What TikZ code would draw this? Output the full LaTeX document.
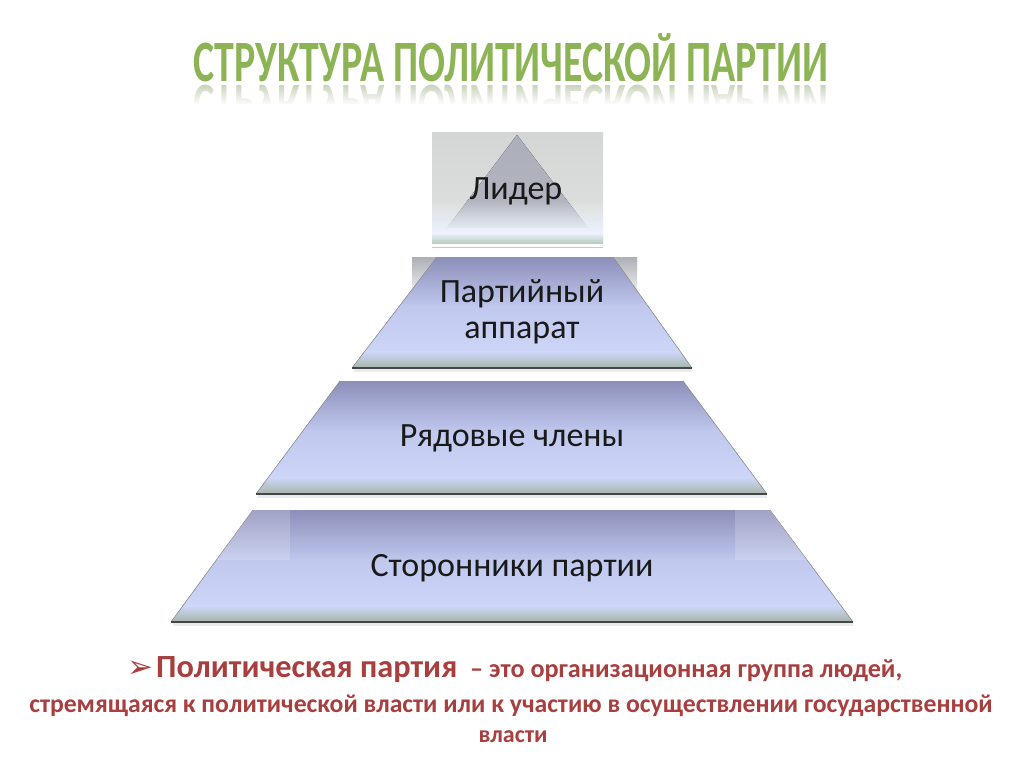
\documentclass[tikz,border=0pt]{standalone}
\usepackage{fontspec}
\setmainfont{Carlito}
\newfontfamily\djv{DejaVu Sans}
\usetikzlibrary{fadings}
\definecolor{titlegreen}{RGB}{140,180,84}
\definecolor{defred}{RGB}{168,62,62}
\definecolor{lvtop}{RGB}{140,143,185}
\definecolor{lvmid}{RGB}{192,200,238}
\definecolor{lvlow}{RGB}{205,214,248}
\definecolor{lvgreen}{RGB}{165,182,168}
\definecolor{edgegrey}{RGB}{70,70,72}
\definecolor{sidegrey}{RGB}{150,150,160}
\definecolor{ldtop}{RGB}{212,214,214}
\definecolor{ldmid}{RGB}{224,226,224}
\definecolor{ldtri}{RGB}{172,175,186}
\definecolor{ldwhite}{RGB}{236,241,252}
\definecolor{ldgreen}{RGB}{182,206,190}
\tikzset{
  lvltext/.style={font=\fontsize{34}{36}\selectfont, text=black!90, align=center},
  bottomedge/.style={draw=edgegrey, line width=1.6pt},
  sideedge/.style={draw=sidegrey, line width=0.6pt},
}
% level macro: #1 name, #2 ytop, #3 ybot, #4 xtl, #5 xtr, #6 xbl, #7 xbr
\newcommand{\pyrlevel}[7]{%
  \coordinate (#1-tl) at (#4,#2);
  \coordinate (#1-tr) at (#5,#2);
  \coordinate (#1-bl) at (#6,#3);
  \coordinate (#1-br) at (#7,#3);
  \begin{scope}
    \clip (#1-tl) -- (#1-tr) -- (#1-br) -- (#1-bl) -- cycle;
    \pgfmathsetmacro{\ya}{#2+0.45*(#3-#2)}
    \pgfmathsetmacro{\yb}{#3-0.14*(#3-#2)}
    \fill[top color=lvtop, bottom color=lvmid] (#6,#2) rectangle (#7,\ya);
    \fill[top color=lvmid, bottom color=lvlow] (#6,\ya-0.5) rectangle (#7,\yb);
    \fill[top color=lvlow, bottom color=lvgreen] (#6,\yb-0.5) rectangle (#7,#3);
  \end{scope}
  \draw[sideedge] (#1-bl) -- (#1-tl);
  \draw[sideedge] (#1-br) -- (#1-tr);
  \fill[black!8] (#6+2,#3+1) rectangle (#7,#3+4);
  \draw[bottomedge] (#1-bl) -- (#1-br);
}
\begin{document}
\begin{tikzpicture}[x=1pt,y=-1pt]
\useasboundingbox[fill=white] (0,0) rectangle (1024,767);

% ---- title with reflection
\node[anchor=base, text=titlegreen, inner sep=0] (title) at (511,82)
  {\resizebox{635pt}{38pt}{\bfseries\smash{СТРУКТУРА ПОЛИТИЧЕСКОЙ ПАРТИИ}\vphantom{Т}}};
\begin{scope}
  \clip (150,84) rectangle (880,104);
  \node[anchor=base, text=titlegreen!55!gray, opacity=0.45, inner sep=0] (titlerefl) at (511,86)
    {\scalebox{1}[-1]{\resizebox{635pt}{38pt}{\bfseries\smash{СТРУКТУРА ПОЛИТИЧЕСКОЙ ПАРТИИ}\vphantom{Т}}}};
\end{scope}
\fill[white, path fading=north] (150,84) rectangle (880,105);

% ---- leader (top)
\coordinate (ld-tl) at (432,133);
\coordinate (ld-br) at (603,243);
\coordinate (apex) at (517,135);
\coordinate (tri-l) at (447,228);
\coordinate (tri-r) at (588,228);
\fill[top color=ldtop, bottom color=ldmid] (ld-tl) rectangle (ld-br);
\fill[top color=ldtri, bottom color=ldtri!90!white] (apex) -- (tri-r) -- (tri-l) -- cycle;
\fill[ldwhite, path fading=north] (432,200) rectangle (603,232);
\fill[ldwhite] (432,231.5) rectangle (603,234);
\fill[top color=ldwhite, bottom color=ldgreen] (432,233.5) rectangle (603,243);
\draw[draw=black!22, line width=0.8pt] (432,247) -- (603,247);
\node[lvltext] (leader) at (516,191) {Лидер};

% ---- level 2 back rectangle
\fill[top color={rgb,255:red,172;green,175;blue,180}, bottom color=white] (412,257) rectangle (637,302);
\pyrlevel{apparat}{257}{368}{437}{613}{352}{692}
\node[lvltext] (apparatus) at (522,312) {Партийный\\аппарат};

% ---- level 3
\pyrlevel{members}{381}{494}{340}{683}{256}{767}
\node[lvltext] (ranks) at (512,438) {Рядовые члены};

% ---- level 4
\pyrlevel{supp}{510}{622}{253}{770}{171}{853}
\begin{scope}
  \clip (supp-tl) -- (supp-tr) -- (supp-br) -- (supp-bl) -- cycle;
  \fill[white, fill opacity=0.18] (171,510) rectangle (290,560);
  \fill[white, fill opacity=0.18] (735,510) rectangle (853,560);
\end{scope}
\node[lvltext] (supporters) at (512,568) {Сторонники партии};

% ---- definition text
\node[anchor=base west, inner sep=0, text=defred] (bullet) at (127,677)
  {\resizebox{26pt}{!}{\djv ➢}};
\node[anchor=base west, inner sep=0, text=defred] (term) at (156,677)
  {\resizebox{301pt}{!}{\bfseries Политическая партия}};
\node[anchor=base west, inner sep=0, text=defred] (defa) at (470,677)
  {\resizebox{432pt}{!}{\bfseries – это организационная группа людей,}};
\node[anchor=base, inner sep=0, text=defred] (defb) at (511,712)
  {\resizebox{963pt}{!}{\bfseries стремящаяся к политической власти или к участию в осуществлении государственной}};
\node[anchor=base, inner sep=0, text=defred, font=\fontsize{24}{24}\selectfont\bfseries] (defc) at (513,742)
  {власти};
\end{tikzpicture}
\end{document}
